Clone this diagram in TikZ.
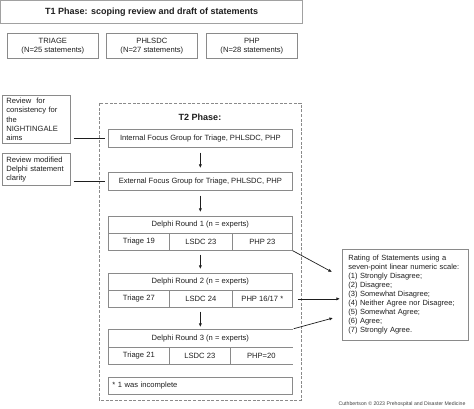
\documentclass[tikz,border=0pt]{standalone}
\usepackage{fontspec}
\setmainfont{Liberation Sans}
\usetikzlibrary{positioning,arrows.meta}
\definecolor{boxgray}{HTML}{8A8A8A}
\definecolor{inkgray}{HTML}{1E1E1E}

\begin{document}
\begin{tikzpicture}[x=1pt,y=-1pt,
  >={Latex[length=3.6pt,width=3.2pt]},
  box/.style={draw=boxgray, line width=0.7pt, inner sep=0pt, anchor=north west,
    align=center, text=inkgray, font=\fontsize{7.6}{9.2}\selectfont},
  notebox/.style={box, align=left, inner xsep=4pt},
  cell/.style={box, minimum height=17},
  bare/.style={cell, draw=none},
  title/.style={text=inkgray, font=\fontsize{9}{11}\bfseries\selectfont},
  link/.style={inkgray, line width=0.7pt}
]

\useasboundingbox (0,0) rectangle (474,409);

\def\colL{108}
\def\colW{184}

% T1 phase
\node[box, draw=boxgray!80, minimum width=301.5, minimum height=22.5, font=\fontsize{9}{11}\bfseries\selectfont]
  (tone) at (0.5,0.5) {T1 Phase: scoping review and draft of statements};
\node[box, minimum width=91, minimum height=25] (triage) at (7,33) {TRIAGE\\(N=25 statements)};
\node[box, minimum width=91, minimum height=25] (phlsdc) at (106,33) {PHLSDC\\(N=27 statements)};
\node[box, minimum width=91, minimum height=25] (php) at (206,33) {PHP\\(N=28 statements)};

% T2 phase
\draw[boxgray, line width=0.7pt, dash pattern=on 3pt off 1.6pt] (99,103) rectangle (301,400);
\node[title] (ttwo) at (200,117) {T2 Phase:};

\node[box, minimum width=\colW, minimum height=18] (intfg) at (\colL,129) {Internal Focus Group for Triage, PHLSDC, PHP};
\node[box, minimum width=\colW, minimum height=18] (extfg) at (\colL,172) {External Focus Group for Triage, PHLSDC, PHP};

% Delphi rounds
\node[cell, minimum width=\colW] (ronehead) at (\colL,216) {Delphi Round 1 (n = experts)};
\node[cell, minimum width=61] (ronea) at (108,233) {Triage 19};
\node[cell, minimum width=63] (roneb) at (169,233) {LSDC 23};
\node[cell, minimum width=60] (ronec) at (232,233) {PHP 23};

\node[cell, minimum width=\colW] (rtwohead) at (\colL,273) {Delphi Round 2 (n = experts)};
\node[cell, minimum width=61] (rtwoa) at (108,290) {Triage 27};
\node[cell, minimum width=63] (rtwob) at (169,290) {LSDC 24};
\node[cell, minimum width=60] (rtwoc) at (232,290) {PHP 16/17 *};

\node[bare, minimum width=\colW, minimum height=18] (rthreehead) at (\colL,329) {Delphi Round 3 (n = experts)};
\node[bare, minimum width=61] (rthreea) at (108,347) {Triage 21};
\node[bare, minimum width=61] (rthreeb) at (169,347) {LSDC 23};
\node[bare, minimum width=62] (rthreec) at (230,347) {PHP=20};
\draw[boxgray, line width=0.7pt] (rthreehead.north east) -- (rthreehead.north west)
  -- (rthreea.south west) -- (rthreec.south east);
\draw[boxgray, line width=0.7pt] (rthreehead.south west) -- (rthreehead.south east);
\draw[boxgray, line width=0.7pt] (rthreea.north east) -- (rthreea.south east);
\draw[boxgray, line width=0.7pt] (rthreeb.north east) -- (rthreeb.south east);

\node[notebox, minimum width=\colW, minimum height=17, text width=176] (fnote) at (\colL,377) {* 1 was incomplete};

\draw[link, ->, shorten <=5pt, shorten >=4pt] (intfg.south) -- (extfg.north);
\draw[link, ->, shorten <=5pt, shorten >=4pt] (extfg.south) -- (ronehead.north);
\draw[link, ->, shorten <=4pt, shorten >=4pt] (ronea.south -| ronehead.south) -- (rtwohead.north);
\draw[link, ->, shorten <=4pt, shorten >=2pt] (rtwoa.south -| rtwohead.south) -- (rthreehead.north);

% reviews on the left
\node[notebox, minimum width=68, minimum height=48, text width=60] (revone) at (2,95)
  {Review~ for\\consistency for\\the\\NIGHTINGALE\\aims};
\node[notebox, minimum width=68, minimum height=32, text width=60] (revtwo) at (2,153)
  {Review modified\\Delphi statement\\clarity};
\draw[link, shorten <=3pt, shorten >=3pt] (revone.east |- intfg.west) -- (intfg.west);
\draw[link, shorten <=3pt, shorten >=3pt] (revtwo.east |- extfg.west) -- (extfg.west);

% rating scale
\node[notebox, minimum width=126, minimum height=91, text width=114, inner xsep=6pt,
  font=\fontsize{7.5}{9}\selectfont] (rating) at (342,249)
  {Rating of Statements using a\\seven-point linear numeric scale:\\(1) Strongly Disagree;\\(2) Disagree;\\(3) Somewhat Disagree;\\(4) Neither Agree nor Disagree;\\(5) Somewhat Agree;\\(6) Agree;\\(7) Strongly Agree.};
\coordinate (rinone) at (332,272);
\coordinate (rinthree) at (333,318);
\draw[link, ->] (ronec.south east) -- (rinone);
\draw[link, ->, shorten <=5pt, shorten >=2pt] (rtwoc.east) -- (rating.west |- rtwoc.east);
\draw[link, ->, shorten <=1pt] (rthreehead.north east) -- (rinthree);

\node[text=inkgray!85, font=\fontsize{5.2}{6}\selectfont] (credit) at (402,404)
  {Cuthbertson © 2023 Prehospital and Disaster Medicine};

\end{tikzpicture}
\end{document}
